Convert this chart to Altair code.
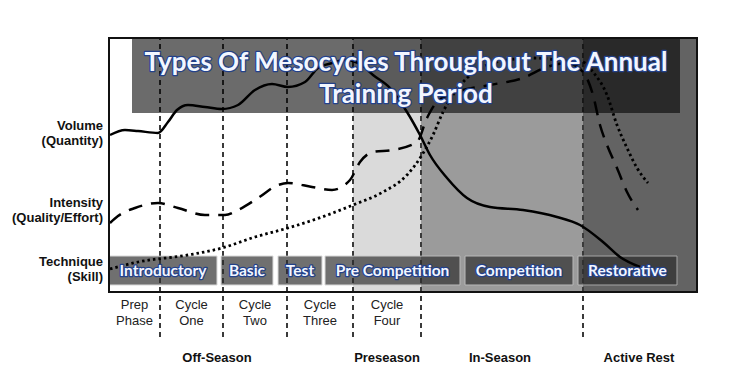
import altair as alt
import pandas as pd

# ---------------- data (plot units: x 0..588, y 0..254) ----------
region_start = [0, 244, 312, 474]
region_end = [244, 312, 474, 588]
region_color = ["#ffffff", "#dadada", "#9b9b9b", "#636363"]

divider_x = [51, 114, 178, 244, 312, 474]

volume_x = [1, 16, 29, 49, 59, 68, 79, 96, 113, 129, 146, 163, 179, 196, 209, 223, 236, 251, 264, 281,
            298, 311, 321, 338, 358, 381, 414, 448, 471, 494, 511, 531]
volume_y = [157, 162, 161, 159, 170, 182, 187, 185, 183, 187, 202, 208, 205, 210, 224, 229, 232, 228, 217, 204,
            180, 157, 137, 114, 94, 85, 82, 75, 67, 50, 35, 25]

intensity_x = [1, 9, 26, 49, 69, 96, 116, 129, 149, 169, 179, 203, 223, 241, 251, 264, 284, 308, 318, 328,
               348, 381, 414, 438, 458, 474, 484, 491, 498, 508, 518, 529]
intensity_y = [69, 76, 84, 89, 84, 77, 77, 82, 94, 107, 109, 105, 102, 112, 130, 140, 142, 150, 174, 190,
               200, 207, 214, 225, 229, 220, 197, 167, 147, 124, 100, 82]

technique_x = [1, 29, 79, 113, 146, 179, 213, 244, 274, 298, 313, 324, 334, 344, 358, 374, 398, 424, 458,
               474, 484, 498, 508, 518, 528, 539]
technique_y = [23, 30, 37, 44, 55, 64, 75, 87, 100, 117, 137, 157, 180, 197, 214, 225, 232, 234, 231,
               230, 220, 197, 167, 144, 124, 109]

box_labels = ["Introductory", "Basic", "Test", "Pre Competition", "Competition", "Restorative"]
box_start = [0, 112, 169, 216, 356, 469]
box_end = [108, 164, 213, 351, 464, 568]
box_bottom = 7
box_top = 36

title_lines = ["Types Of Mesocycles Throughout The Annual", "Training Period"]
title_y = [229, 197]
title_box = {"x": 23, "x2": 571, "y": 179, "y2": 254}

row_labels = ["Volume", "(Quantity)", "Intensity", "(Quality/Effort)", "Technique", "(Skill)"]
row_label_y = [166, 151, 89, 74, 30, 15]

cycle_top = ["Prep", "Cycle", "Cycle", "Cycle", "Cycle"]
cycle_bottom = ["Phase", "One", "Two", "Three", "Four"]
cycle_bounds = [0, 51, 114, 178, 244, 312]

season_labels = ["Off-Season", "Preseason", "In-Season", "Active Rest"]
season_x = [108, 278, 391, 530]

# ---------------- tables ----------------
X_DOM = [0, 588]
Y_DOM = [0, 254]
xs = alt.Scale(domain=X_DOM, nice=False, zero=False)
ys = alt.Scale(domain=Y_DOM, nice=False, zero=False)


def X(f="x"):
    return alt.X(f"{f}:Q", scale=xs, axis=None)


def Y(f="y"):
    return alt.Y(f"{f}:Q", scale=ys, axis=None)


regions = pd.DataFrame({"x": region_start, "x2": region_end, "c": region_color,
                        "y": Y_DOM[0], "y2": Y_DOM[1]})
dividers = pd.DataFrame({"x": divider_x, "y": -45, "y2": 254})
vol = pd.DataFrame({"x": volume_x, "y": volume_y})
inten = pd.DataFrame({"x": intensity_x, "y": intensity_y})
tech = pd.DataFrame({"x": technique_x, "y": technique_y})
boxes = pd.DataFrame({"label": box_labels, "x": box_start, "x2": box_end,
                      "y": box_bottom, "y2": box_top})
boxes["cx"] = (boxes["x"] + boxes["x2"]) / 2
boxes["cy"] = (box_bottom + box_top) / 2
tbox = pd.DataFrame([title_box])
titles = pd.DataFrame({"t": title_lines, "x": (title_box["x"] + title_box["x2"]) / 2, "y": title_y})
rows = pd.DataFrame({"t": row_labels, "x": -6, "y": row_label_y})
mids = [(cycle_bounds[i] + cycle_bounds[i + 1]) / 2 for i in range(len(cycle_top))]
cycles = pd.DataFrame({"t": cycle_top + cycle_bottom, "x": mids + mids,
                       "y": [-13] * 5 + [-29] * 5})
seasons = pd.DataFrame({"t": season_labels, "x": season_x, "y": -66})
frame = pd.DataFrame({"x": [0], "x2": [588], "y": [0], "y2": [254]})

# ---------------- layers ----------------
bg = alt.Chart(regions).mark_rect().encode(
    x=X(), x2="x2:Q", y=Y(), y2="y2:Q", fill=alt.Fill("c:N", scale=None))

div = alt.Chart(dividers).mark_rule(strokeDash=[5, 4], strokeWidth=2, color="#3a3a3a").encode(
    x=X(), y=Y(), y2="y2:Q")

tb = alt.Chart(tbox).mark_rect(color="#000000", opacity=0.58).encode(
    x=X(), x2="x2:Q", y=Y(), y2="y2:Q")

bx = alt.Chart(boxes).mark_rect(color="#2e2e2e", opacity=0.68, stroke="#c8c8c8",
                                strokeWidth=1, strokeOpacity=1).encode(
    x=X(), x2="x2:Q", y=Y(), y2="y2:Q")

l_vol = alt.Chart(vol).mark_line(color="black", strokeWidth=2.5, interpolate="monotone").encode(
    x=X(), y=Y())
l_int = alt.Chart(inten).mark_line(color="black", strokeWidth=2.5, strokeDash=[14, 9],
                                   interpolate="monotone").encode(x=X(), y=Y())
l_tech = alt.Chart(tech).mark_line(color="black", strokeWidth=2.8, strokeDash=[2.5, 3],
                                   interpolate="monotone").encode(x=X(), y=Y())

glow_kw = dict(stroke="#23418a", strokeWidth=2.5, strokeJoin="round", fill="#23418a")
face_kw = dict(fill="#f2f6ff")

t_glow = alt.Chart(titles).mark_text(font="Lato", fontSize=26, fontWeight="bold", baseline="middle",
                                     **glow_kw).encode(x=X(), y=Y(), text="t:N")
t_face = alt.Chart(titles).mark_text(font="Lato", fontSize=26, fontWeight="bold", baseline="middle",
                                     **face_kw).encode(x=X(), y=Y(), text="t:N")

b_glow = alt.Chart(boxes).mark_text(font="Lato", fontSize=15.5, fontWeight="bold", baseline="middle",
                                    **glow_kw).encode(x=X("cx"), y=Y("cy"), text="label:N")
b_face = alt.Chart(boxes).mark_text(font="Lato", fontSize=15.5, fontWeight="bold", baseline="middle",
                                    **face_kw).encode(x=X("cx"), y=Y("cy"), text="label:N")

rl = alt.Chart(rows).mark_text(font="Liberation Sans", fontSize=13, fontWeight="bold", align="right",
                               baseline="middle", color="#111").encode(x=X(), y=Y(), text="t:N")
cl = alt.Chart(cycles).mark_text(font="Liberation Sans", fontSize=13, baseline="middle",
                                 color="#222").encode(x=X(), y=Y(), text="t:N")
sl = alt.Chart(seasons).mark_text(font="Liberation Sans", fontSize=13, fontWeight="bold",
                                  baseline="middle", color="#111").encode(x=X(), y=Y(), text="t:N")

fr = alt.Chart(frame).mark_rect(fill=None, fillOpacity=0, stroke="#111", strokeWidth=2).encode(
    x=X(), x2="x2:Q", y=Y(), y2="y2:Q")

chart = alt.layer(bg, div, tb, bx, l_vol, l_int, l_tech, t_glow, t_face, b_glow, b_face,
                  rl, cl, sl, fr).properties(
    width=588, height=254,
    autosize=alt.AutoSizeParams(type="none"),
    padding={"left": 101, "top": 30, "right": 35, "bottom": 84},
).configure_view(stroke=None)

chart.save("out.html", embed_options={"renderer": "svg", "actions": False})
